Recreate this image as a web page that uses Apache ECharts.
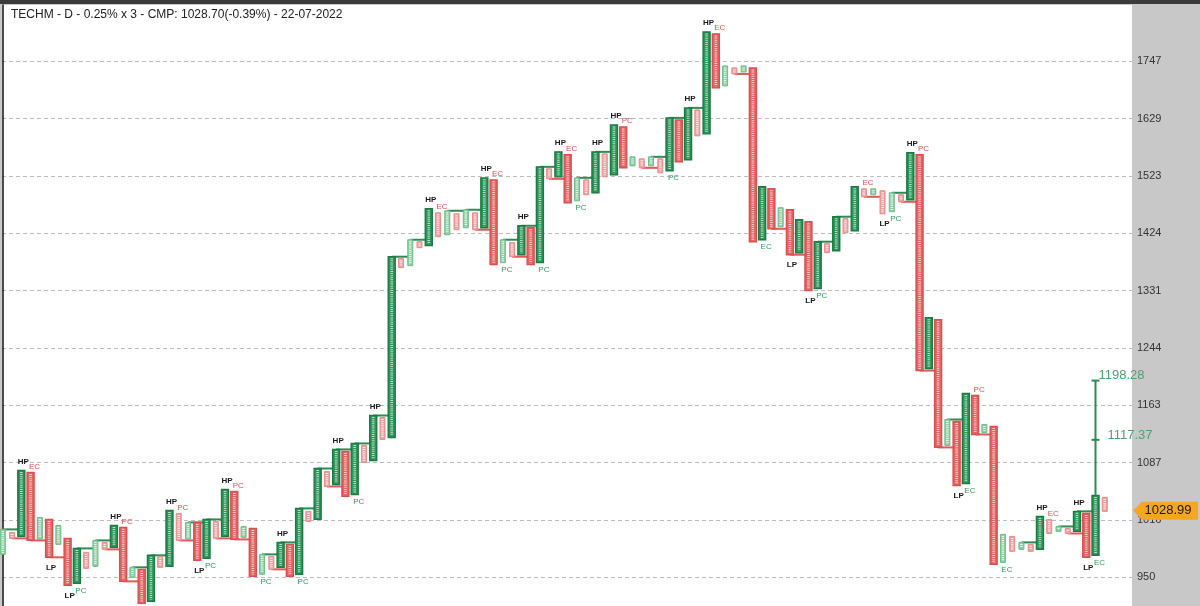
<!DOCTYPE html>
<html>
<head>
<meta charset="utf-8">
<title>TECHM P&amp;F</title>
<script src="https://cdn.jsdelivr.net/npm/echarts@6/dist/echarts.min.js"></script>
<style>
    html, body { margin: 0; padding: 0; background: #c8c8c8; }
    #chart { width: 1200px; height: 606px; }
</style>
</head>
<body>
<div id="chart"></div>
<script>
// point & figure columns, even index = X column, odd index = O column
const colHigh = [
    1005.3, 1001.7, 1077.7, 1075.1, 1019.6, 1017.2, 1010.0, 994.7, 983.0, 978.4,
    992.3, 990.0, 1010.0, 1007.7, 961.3, 959.0, 975.0, 973.8, 1028.1, 1024.4,
    1013.6, 1013.6, 1017.2, 1014.8, 1053.8, 1051.3, 1008.8, 1006.5, 976.1, 973.8,
    990.0, 987.7, 1030.5, 1026.9, 1080.2, 1076.4, 1104.8, 1102.2, 1112.6, 1110.0,
    1149.9, 1147.2, 1386.9, 1383.7, 1415.0, 1411.7, 1467.6, 1460.7, 1464.2, 1459.0,
    1465.9, 1460.7, 1522.2, 1518.6, 1415.0, 1410.0, 1438.5, 1435.1, 1542.1, 1538.5,
    1569.6, 1564.1, 1522.2, 1518.6, 1569.6, 1565.9, 1620.3, 1616.5, 1560.4, 1556.7,
    1560.4, 1556.7, 1633.8, 1629.9, 1653.2, 1649.3, 1808.2, 1803.9, 1737.1, 1733.0,
    1737.1, 1733.0, 1506.2, 1502.6, 1469.4, 1465.9, 1448.7, 1445.3, 1411.7, 1408.4,
    1453.9, 1450.5, 1506.2, 1502.6, 1502.6, 1499.1, 1495.6, 1492.1, 1567.8, 1564.1,
    1290.7, 1287.7, 1144.5, 1141.8, 1180.1, 1177.3, 1137.8, 1135.1, 999.4, 997.0,
    990.0, 987.7, 1020.8, 1017.2, 1008.8, 1006.5, 1026.9, 1024.4, 1046.4, 1043.9
];
const colLow = [
    976.1, 994.7, 997.0, 992.3, 993.5, 972.7, 987.7, 941.1, 943.3, 960.1,
    962.4, 981.9, 984.2, 945.5, 950.0, 921.3, 923.5, 961.3, 962.4, 992.3,
    993.5, 969.2, 971.5, 994.7, 997.0, 993.5, 995.9, 951.1, 953.4, 959.0,
    961.3, 951.1, 953.4, 1014.8, 1017.2, 1057.5, 1060.0, 1045.2, 1047.6, 1087.9,
    1090.5, 1117.9, 1120.5, 1369.1, 1372.3, 1401.7, 1405.1, 1420.0, 1423.3, 1431.8,
    1435.1, 1431.8, 1435.1, 1374.0, 1377.2, 1386.9, 1390.2, 1374.0, 1377.2, 1520.4,
    1524.0, 1478.1, 1481.5, 1492.1, 1495.6, 1524.0, 1527.7, 1540.3, 1543.9, 1540.3,
    1543.9, 1531.3, 1534.9, 1551.3, 1554.9, 1599.5, 1603.3, 1692.6, 1696.6, 1720.8,
    1724.8, 1411.7, 1415.0, 1433.4, 1436.8, 1390.2, 1393.5, 1332.5, 1335.6, 1393.5,
    1396.8, 1426.7, 1430.1, 1488.5, 1492.1, 1459.0, 1462.5, 1479.8, 1483.3, 1212.5,
    1215.4, 1107.4, 1110.0, 1058.8, 1061.3, 1124.5, 1127.1, 964.7, 966.9, 979.6,
    981.9, 979.6, 981.9, 1000.5, 1002.9, 1000.5, 1002.9, 972.7, 975.0, 1026.9
];
// 1 = significant column (dark), 0 = minor column (light)
const colStrong = [
    0, 0, 1, 1, 0, 1, 0, 1, 1, 0,
    0, 0, 1, 1, 0, 1, 1, 0, 1, 0,
    0, 1, 1, 0, 1, 1, 0, 1, 0, 0,
    1, 1, 1, 0, 1, 0, 1, 1, 1, 0,
    1, 0, 1, 0, 0, 0, 1, 0, 0, 0,
    0, 0, 1, 1, 0, 0, 1, 1, 1, 0,
    1, 1, 0, 0, 1, 0, 1, 1, 0, 0,
    0, 0, 1, 1, 1, 0, 1, 1, 0, 0,
    0, 1, 1, 1, 0, 1, 1, 1, 1, 0,
    1, 0, 1, 0, 0, 0, 0, 0, 1, 1,
    1, 1, 0, 1, 1, 1, 0, 1, 0, 0,
    0, 0, 1, 0, 0, 0, 1, 1, 1, 0
];
// [column, text]
const markers = [
    [2, "HP"], [3, "EC"], [5, "LP"], [7, "LP"], [8, "PC"], [12, "HP"], [13, "PC"],
    [18, "HP"], [19, "PC"], [21, "LP"], [22, "PC"], [24, "HP"], [25, "PC"], [28, "PC"],
    [30, "HP"], [32, "PC"], [36, "HP"], [38, "PC"], [40, "HP"], [46, "HP"], [47, "EC"],
    [52, "HP"], [53, "EC"], [54, "PC"], [56, "HP"], [58, "PC"], [60, "HP"], [61, "EC"],
    [62, "PC"], [64, "HP"], [66, "HP"], [67, "PC"], [72, "PC"], [74, "HP"], [76, "HP"],
    [77, "EC"], [82, "EC"], [85, "LP"], [87, "LP"], [88, "PC"], [93, "EC"], [95, "LP"],
    [96, "PC"], [98, "HP"], [99, "PC"], [103, "LP"], [104, "EC"], [105, "PC"], [108, "EC"],
    [112, "HP"], [113, "EC"], [116, "HP"], [117, "LP"], [118, "EC"]
];
const tickLabels = ["950", "1016", "1087", "1163", "1244", "1331", "1424", "1523", "1629", "1747"];
const targetCol = 118;
const targetPrices = [1117.37, 1198.28];
const cmpPrice = 1028.99;
const titleText = "TECHM - D - 0.25% x 3 - CMP: 1028.70(-0.39%) - 22-07-2022";

// log scale: one grid step = 7%, one box = 0.25%
const BASE = 950;
const STEP = Math.log(1.07);
const BOX_U = Math.log(1.0025) / STEP;
const toU = (p) => Math.log(p / BASE) / STEP;

const palette = {
    xDark: { fill: "#2c9658", stroke: "#1c7a44", dot: "rgba(255,255,255,0.7)" },
    xLight: { fill: "#8fcfa4", stroke: "#6cbd88", dot: "rgba(255,255,255,0.85)" },
    oDark: { fill: "#e46464", stroke: "#da4f4f", dot: "rgba(255,255,255,0.7)" },
    oLight: { fill: "#f0a2a2", stroke: "#e98b8b", dot: "rgba(255,255,255,0.85)" },
};
const GREEN_LINE = "#2b8d54";
const RED_LINE = "#e05858";

const columnData = colHigh.map((h, i) => [i, toU(colLow[i]), toU(h), colStrong[i]]);

// step lines: from an X top to the next X column when it goes higher,
// from an O bottom to the next O column when it goes lower
const stepData = [];
for (let i = 0; i + 2 < colHigh.length; i++) {
    const j = i + 2;
    if (i % 2 === 0) {
        if (colHigh[j] > colHigh[i]) stepData.push([i, j, toU(colHigh[i]), 0]);
    } else {
        if (colLow[j] < colLow[i]) stepData.push([i, j, toU(colLow[i]), 1]);
    }
}

const markerData = markers.map((m) => {
    const c = m[0];
    const above = m[1] === "HP" || (c % 2 === 1 && m[1] !== "LP");
    return [c, above ? toU(colHigh[c]) : toU(colLow[c])];
});

// grid lines at every labelled price step
const gridLines = tickLabels.map((t, k) => ({ yAxis: k }));

function renderColumn(params, api) {
    const i = api.value(0);
    const strong = api.value(3) === 1;
    const isX = i % 2 === 0;
    const a = api.coord([i, api.value(2)]);
    const b = api.coord([i, api.value(1)]);
    const pal = isX ? (strong ? palette.xDark : palette.xLight) : (strong ? palette.oDark : palette.oLight);
    const w = strong ? 7 : 5;
    const h = Math.max(b[1] - a[1], 3);
    const boxPx = api.size([0, BOX_U])[1];
    return {
        type: "group",
        children: [
            {
                type: "rect",
                shape: { x: a[0] - w / 2, y: a[1], width: w, height: h },
                style: { fill: pal.fill, stroke: pal.stroke, lineWidth: strong ? 1.4 : 1 },
            },
            {
                type: "line",
                shape: { x1: a[0], y1: a[1] + 1.5, x2: a[0], y2: a[1] + h - 1.5 },
                style: { stroke: pal.dot, lineWidth: strong ? 2.6 : 2.4, lineDash: [1, boxPx - 1] },
            },
        ],
    };
}

function renderStep(params, api) {
    const p1 = api.coord([api.value(0), api.value(2)]);
    const p2 = api.coord([api.value(1), api.value(2)]);
    return {
        type: "line",
        shape: { x1: p1[0], y1: p1[1], x2: p2[0], y2: p2[1] },
        style: { stroke: api.value(3) === 0 ? GREEN_LINE : RED_LINE, lineWidth: 2 },
    };
}

function renderMarker(params, api) {
    const m = markers[params.dataIndex];
    const c = m[0];
    const p = api.coord([c, api.value(1)]);
    const text = m[1];
    let color, font, dy, dx;
    if (text === "HP") {
        color = "#1a1a1a"; font = "bold 8px Arial"; dy = -9; dx = 2;
    } else if (text === "LP") {
        color = "#1a1a1a"; font = "bold 8px Arial"; dy = 10; dx = 2;
    } else if (c % 2 === 1) {
        color = "#e05050"; font = "8px Arial"; dy = -6; dx = 4;
    } else {
        color = "#2e9a5c"; font = "8px Arial"; dy = 7; dx = 4;
    }
    return {
        type: "text",
        style: {
            text: text, x: p[0] + dx, y: p[1] + dy, fill: color, font: font,
            align: "center", verticalAlign: "middle",
            textAlign: "center", textVerticalAlign: "middle",
        },
    };
}

function renderTarget(params, api) {
    const c = api.value(0);
    const base = api.coord([c, api.value(1)]);
    const t1 = api.coord([c, api.value(2)]);
    const t2 = api.coord([c, api.value(3)]);
    const st = { stroke: GREEN_LINE, lineWidth: 2 };
    const font = "13px Arial";
    return {
        type: "group",
        children: [
            { type: "line", shape: { x1: base[0], y1: base[1], x2: t2[0], y2: t2[1] }, style: st },
            { type: "line", shape: { x1: t1[0] - 4, y1: t1[1], x2: t1[0] + 4, y2: t1[1] }, style: st },
            { type: "line", shape: { x1: t2[0] - 4, y1: t2[1], x2: t2[0] + 4, y2: t2[1] }, style: st },
            {
                type: "text",
                style: {
                    text: targetPrices[0].toFixed(2), x: t1[0] + 12, y: t1[1] - 4, fill: "#4aa274", font: font,
                    align: "left", verticalAlign: "middle", textAlign: "left", textVerticalAlign: "middle",
                },
            },
            {
                type: "text",
                style: {
                    text: targetPrices[1].toFixed(2), x: t2[0] + 3, y: t2[1] - 5, fill: "#4aa274", font: font,
                    align: "left", verticalAlign: "middle", textAlign: "left", textVerticalAlign: "middle",
                },
            },
        ],
    };
}

function renderTag(params, api) {
    const y = api.coord([0, api.value(0)])[1] + 1;
    const x0 = params.coordSys.x + params.coordSys.width;
    return {
        type: "group",
        children: [
            {
                type: "polygon",
                shape: { points: [[x0 + 1, y], [x0 + 10, y - 9], [x0 + 66, y - 9], [x0 + 66, y + 9], [x0 + 10, y + 9]] },
                style: { fill: "#f6a623" },
            },
            {
                type: "text",
                style: {
                    text: cmpPrice.toFixed(2), x: x0 + 36, y: y, fill: "#1a1a1a", font: "13px Arial",
                    align: "center", verticalAlign: "middle", textAlign: "center", textVerticalAlign: "middle",
                },
            },
        ],
    };
}

const chart = echarts.init(document.getElementById("chart"), null, { renderer: "canvas" });

const option = {
    backgroundColor: "#c8c8c8",
    animation: false,
    title: {
        text: titleText,
        left: 6,
        top: 4,
        textStyle: { fontSize: 12, fontWeight: "normal", color: "#222", fontFamily: "Arial" },
    },
    graphic: [
        { type: "rect", left: 0, top: 0, shape: { width: 1200, height: 4 }, style: { fill: "#3a3a3a" } },
    ],
    grid: {
        left: 2,
        right: 68,
        top: 5,
        bottom: 0,
        show: true,
        backgroundColor: "#ffffff",
        borderWidth: 0,
    },
    xAxis: {
        type: "value",
        min: -0.086,
        max: 121.94,
        show: false,
        splitLine: { show: false },
    },
    yAxis: {
        type: "value",
        position: "right",
        min: -0.5,
        max: 9.9826,
        interval: 0.5,
        axisLine: { show: true, lineStyle: { color: "#111", width: 1.5 } },
        axisTick: { show: false },
        axisLabel: {
            color: "#333",
            fontSize: 11,
            fontFamily: "Arial",
            margin: 5,
            showMaxLabel: false,
            formatter: (v) => {
                const k = Math.round(v * 2) / 2;
                if (k !== Math.round(k)) return "";
                return k >= 0 && k < tickLabels.length ? tickLabels[k] : "";
            },
        },
        splitLine: { show: false },
    },
    series: [
        {
            name: "steps",
            type: "custom",
            renderItem: renderStep,
            encode: { x: [0, 1], y: 2 },
            data: stepData,
            z: 1,
            markLine: {
                silent: true,
                symbol: "none",
                label: { show: false },
                lineStyle: { color: "#bdbdbd", type: [4, 3], width: 1 },
                data: gridLines,
                z: 0,
            },
        },
        {
            name: "columns",
            type: "custom",
            renderItem: renderColumn,
            encode: { x: 0, y: [1, 2] },
            data: columnData,
            z: 2,
        },
        {
            name: "markers",
            type: "custom",
            renderItem: renderMarker,
            encode: { x: 0, y: 1 },
            data: markerData,
            clip: false,
            z: 3,
        },
        {
            name: "target",
            type: "custom",
            renderItem: renderTarget,
            encode: { x: 0, y: [1, 2, 3] },
            data: [[targetCol, toU(colHigh[targetCol]), toU(targetPrices[0]), toU(targetPrices[1])]],
            clip: false,
            z: 3,
        },
        {
            name: "cmp",
            type: "custom",
            renderItem: renderTag,
            encode: { y: 0 },
            data: [[toU(cmpPrice)]],
            clip: false,
            z: 4,
        },
    ],
};

chart.setOption(option);
</script>
</body>
</html>
